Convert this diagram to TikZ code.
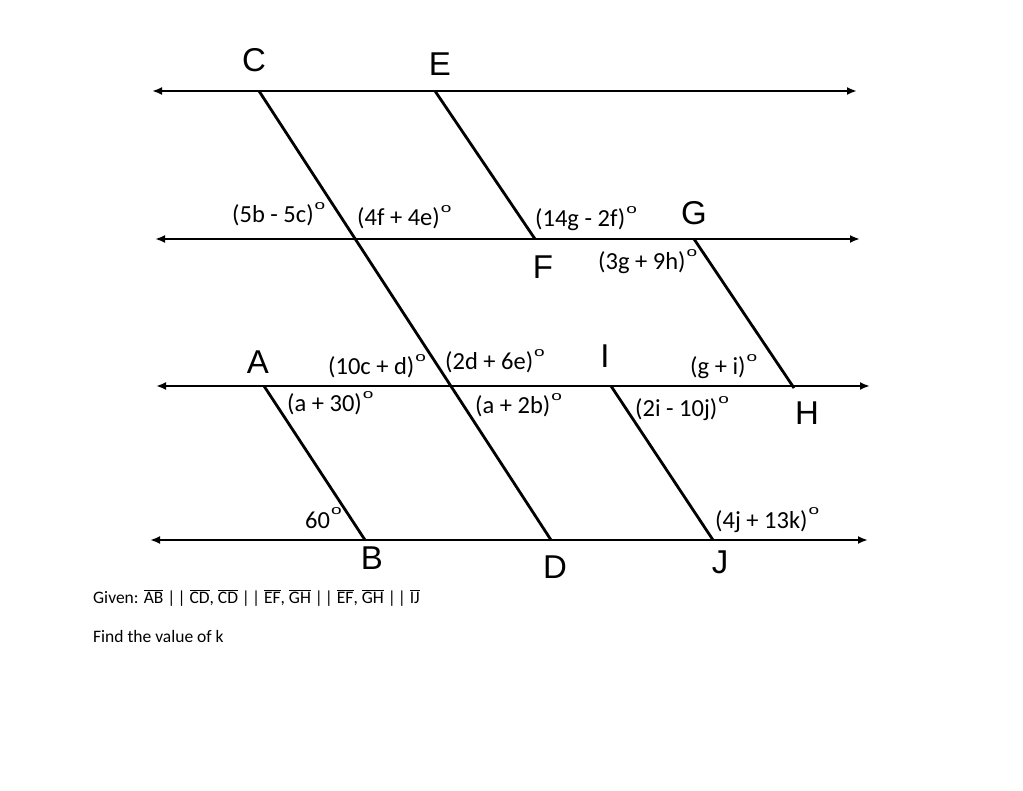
\documentclass[tikz,border=0pt]{standalone}
\usepackage{fontspec}
\setmainfont{Carlito}
\newfontfamily\arialf{Liberation Sans}
\usetikzlibrary{arrows.meta}
\newcommand{\dg}{\hspace{1pt}\raisebox{13.5pt}{\arialf\fontsize{19}{19}\selectfont\scalebox{1}[0.68]{o}}}
\newcommand{\ovl}[1]{$\overline{\mbox{#1}}$}
\newcommand{\pll}{|\hspace{2pt}|}
\tikzset{
  hline/.style={line width=2.9pt, {Latex[length=10pt,width=8pt]}-{Latex[length=10pt,width=8pt]}},
  tline/.style={line width=2.8pt},
  ptlab/.style={font=\arialf\fontsize{33}{33}\selectfont, inner sep=0pt},
  anglab/.style={font=\fontsize{24.5}{24.5}\selectfont, inner sep=0pt, anchor=base west},
  txt/.style={font=\fontsize{17.5}{17.5}\selectfont, inner sep=0pt, anchor=base west}
}
\begin{document}
\begin{tikzpicture}[x=1pt,y=-1pt]
\useasboundingbox (0,0) rectangle (1023,791);
% horizontal line ends
\coordinate (l1w) at (152,91);  \coordinate (l1e) at (857,91);
\coordinate (l2w) at (155,239); \coordinate (l2e) at (860,239);
\coordinate (l3w) at (156,386); \coordinate (l3e) at (870,386);
\coordinate (l4w) at (150,540); \coordinate (l4e) at (868,540);
% transversal ends
\coordinate (C) at (259,91);  \coordinate (D) at (551,540);
\coordinate (E) at (435,91);  \coordinate (F) at (535,239);
\coordinate (G) at (694,239); \coordinate (H) at (794,388);
\coordinate (A) at (264,386); \coordinate (B) at (365,540);
\coordinate (I) at (611,386); \coordinate (J) at (713,540);
\draw[hline] (l1w) -- (l1e);
\draw[hline] (l2w) -- (l2e);
\draw[hline] (l3w) -- (l3e);
\draw[hline] (l4w) -- (l4e);
\draw[tline] (C) -- (D);
\draw[tline] (E) -- (F);
\draw[tline] (G) -- (H);
\draw[tline] (A) -- (B);
\draw[tline] (I) -- (J);
% point labels
\node[ptlab] (tC) at (254,60) {C};
\node[ptlab] (tE) at (440,64) {E};
\node[ptlab] (tG) at (694,213) {G};
\node[ptlab] (tF) at (543,267) {F};
\node[ptlab] (tA) at (258,362) {A};
\node[ptlab] (tI) at (605,356) {I};
\node[ptlab] (tH) at (807,413) {H};
\node[ptlab] (tB) at (372,558) {B};
\node[ptlab] (tD) at (555,567) {D};
\node[ptlab] (tJ) at (720,562) {J};
% angle labels
\node[anglab] (a1) at (232,223) {(5b - 5c)\dg};
\node[anglab] (a2) at (357,226) {(4f + 4e)\dg};
\node[anglab] (a3) at (535,227) {(14g - 2f)\dg};
\node[anglab] (a4) at (598,270) {(3g + 9h)\dg};
\node[anglab] (a5) at (328,375) {(10c + d)\dg};
\node[anglab] (a6) at (445,370) {(2d + 6e)\dg};
\node[anglab] (a7) at (287,412) {(a + 30)\dg};
\node[anglab] (a8) at (475,414) {(a + 2b)\dg};
\node[anglab] (a9) at (690,375) {(g + i)\dg};
\node[anglab] (a10) at (635,417) {(2i - 10j)\dg};
\node[anglab] (a11) at (305,528) {60\dg};
\node[anglab] (a12) at (715,528) {(4j + 13k)\dg};
% text
\node[txt] (given) at (93,603) {Given: \ovl{AB} \pll{} \ovl{CD}, \ovl{CD} \pll{} \ovl{EF}, \ovl{GH} \pll{} \ovl{EF}, \ovl{GH} \pll{} \ovl{IJ}};
\node[txt] (find) at (93,642) {Find the value of k};
\end{tikzpicture}
\end{document}
